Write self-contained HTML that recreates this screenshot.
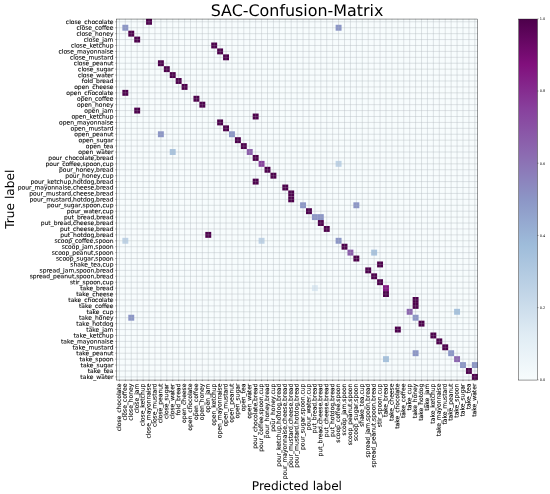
<!DOCTYPE html>
<html><head><meta charset="utf-8"><title>SAC-Confusion-Matrix</title>
<style>html,body{margin:0;padding:0;background:#fff}body{width:550px;height:494px;overflow:hidden}svg{display:block}</style>
</head><body>
<svg width="550" height="494" viewBox="0 0 550 494" font-family='"DejaVu Sans", "Liberation Sans", sans-serif' text-rendering="geometricPrecision">
<rect width="550" height="494" fill="#fff"/>
<rect x="116.45" y="18.85" width="361.35" height="361.0" fill="#f7fcfd"/>
<path d="M119.41 18.85V379.85M116.45 21.81H477.80M125.34 18.85V379.85M116.45 27.73H477.80M131.26 18.85V379.85M116.45 33.65H477.80M137.18 18.85V379.85M116.45 39.56H477.80M143.11 18.85V379.85M116.45 45.48H477.80M149.03 18.85V379.85M116.45 51.40H477.80M154.95 18.85V379.85M116.45 57.32H477.80M160.88 18.85V379.85M116.45 63.24H477.80M166.80 18.85V379.85M116.45 69.15H477.80M172.73 18.85V379.85M116.45 75.07H477.80M178.65 18.85V379.85M116.45 80.99H477.80M184.57 18.85V379.85M116.45 86.91H477.80M190.50 18.85V379.85M116.45 92.83H477.80M196.42 18.85V379.85M116.45 98.74H477.80M202.34 18.85V379.85M116.45 104.66H477.80M208.27 18.85V379.85M116.45 110.58H477.80M214.19 18.85V379.85M116.45 116.50H477.80M220.12 18.85V379.85M116.45 122.42H477.80M226.04 18.85V379.85M116.45 128.33H477.80M231.96 18.85V379.85M116.45 134.25H477.80M237.89 18.85V379.85M116.45 140.17H477.80M243.81 18.85V379.85M116.45 146.09H477.80M249.73 18.85V379.85M116.45 152.01H477.80M255.66 18.85V379.85M116.45 157.92H477.80M261.58 18.85V379.85M116.45 163.84H477.80M267.51 18.85V379.85M116.45 169.76H477.80M273.43 18.85V379.85M116.45 175.68H477.80M279.35 18.85V379.85M116.45 181.60H477.80M285.28 18.85V379.85M116.45 187.51H477.80M291.20 18.85V379.85M116.45 193.43H477.80M297.12 18.85V379.85M116.45 199.35H477.80M303.05 18.85V379.85M116.45 205.27H477.80M308.97 18.85V379.85M116.45 211.19H477.80M314.90 18.85V379.85M116.45 217.10H477.80M320.82 18.85V379.85M116.45 223.02H477.80M326.74 18.85V379.85M116.45 228.94H477.80M332.67 18.85V379.85M116.45 234.86H477.80M338.59 18.85V379.85M116.45 240.78H477.80M344.52 18.85V379.85M116.45 246.69H477.80M350.44 18.85V379.85M116.45 252.61H477.80M356.36 18.85V379.85M116.45 258.53H477.80M362.29 18.85V379.85M116.45 264.45H477.80M368.21 18.85V379.85M116.45 270.37H477.80M374.13 18.85V379.85M116.45 276.28H477.80M380.06 18.85V379.85M116.45 282.20H477.80M385.98 18.85V379.85M116.45 288.12H477.80M391.91 18.85V379.85M116.45 294.04H477.80M397.83 18.85V379.85M116.45 299.96H477.80M403.75 18.85V379.85M116.45 305.87H477.80M409.68 18.85V379.85M116.45 311.79H477.80M415.60 18.85V379.85M116.45 317.71H477.80M421.52 18.85V379.85M116.45 323.63H477.80M427.45 18.85V379.85M116.45 329.55H477.80M433.37 18.85V379.85M116.45 335.46H477.80M439.30 18.85V379.85M116.45 341.38H477.80M445.22 18.85V379.85M116.45 347.30H477.80M451.14 18.85V379.85M116.45 353.22H477.80M457.07 18.85V379.85M116.45 359.14H477.80M462.99 18.85V379.85M116.45 365.05H477.80M468.91 18.85V379.85M116.45 370.97H477.80M474.84 18.85V379.85M116.45 376.89H477.80" stroke="#b4bcc0" stroke-width="0.42" fill="none"/>
<g>
<rect x="146.07" y="18.85" width="5.92" height="5.92" fill="#4d004b"/>
<rect x="122.37" y="24.77" width="5.92" height="5.92" fill="#8c96c6"/>
<rect x="335.63" y="24.77" width="5.92" height="5.92" fill="#8c96c6"/>
<rect x="128.30" y="30.69" width="5.92" height="5.92" fill="#4d004b"/>
<rect x="134.22" y="36.60" width="5.92" height="5.92" fill="#4d004b"/>
<rect x="211.23" y="42.52" width="5.92" height="5.92" fill="#4d004b"/>
<rect x="217.15" y="48.44" width="5.92" height="5.92" fill="#4d004b"/>
<rect x="223.08" y="54.36" width="5.92" height="5.92" fill="#4d004b"/>
<rect x="157.92" y="60.28" width="5.92" height="5.92" fill="#4d004b"/>
<rect x="163.84" y="66.19" width="5.92" height="5.92" fill="#4d004b"/>
<rect x="169.76" y="72.11" width="5.92" height="5.92" fill="#4d004b"/>
<rect x="175.69" y="78.03" width="5.92" height="5.92" fill="#4d004b"/>
<rect x="181.61" y="83.95" width="5.92" height="5.92" fill="#4d004b"/>
<rect x="122.37" y="89.87" width="5.92" height="5.92" fill="#4d004b"/>
<rect x="193.46" y="95.78" width="5.92" height="5.92" fill="#4d004b"/>
<rect x="199.38" y="101.70" width="5.92" height="5.92" fill="#4d004b"/>
<rect x="134.22" y="107.62" width="5.92" height="5.92" fill="#4d004b"/>
<rect x="252.70" y="113.54" width="5.92" height="5.92" fill="#4d004b"/>
<rect x="217.15" y="119.46" width="5.92" height="5.92" fill="#4d004b"/>
<rect x="223.08" y="125.37" width="5.92" height="5.92" fill="#4d004b"/>
<rect x="157.92" y="131.29" width="5.92" height="5.92" fill="#8c96c6"/>
<rect x="229.00" y="131.29" width="5.92" height="5.92" fill="#8c96c6"/>
<rect x="234.93" y="137.21" width="5.92" height="5.92" fill="#4d004b"/>
<rect x="240.85" y="143.13" width="5.92" height="5.92" fill="#4d004b"/>
<rect x="169.76" y="149.05" width="5.92" height="5.92" fill="#aac4de"/>
<rect x="246.77" y="149.05" width="5.92" height="5.92" fill="#8b5caa"/>
<rect x="252.70" y="154.96" width="5.92" height="5.92" fill="#4d004b"/>
<rect x="258.62" y="160.88" width="5.92" height="5.92" fill="#88419d"/>
<rect x="335.63" y="160.88" width="5.92" height="5.92" fill="#bfd3e6"/>
<rect x="264.54" y="166.80" width="5.92" height="5.92" fill="#4d004b"/>
<rect x="270.47" y="172.72" width="5.92" height="5.92" fill="#4d004b"/>
<rect x="252.70" y="178.64" width="5.92" height="5.92" fill="#4d004b"/>
<rect x="282.32" y="184.55" width="5.92" height="5.92" fill="#4d004b"/>
<rect x="288.24" y="190.47" width="5.92" height="5.92" fill="#4d004b"/>
<rect x="288.24" y="196.39" width="5.92" height="5.92" fill="#4d004b"/>
<rect x="300.09" y="202.31" width="5.92" height="5.92" fill="#8c96c6"/>
<rect x="353.40" y="202.31" width="5.92" height="5.92" fill="#8c96c6"/>
<rect x="306.01" y="208.23" width="5.92" height="5.92" fill="#4d004b"/>
<rect x="311.93" y="214.15" width="5.92" height="5.92" fill="#8c96c6"/>
<rect x="317.86" y="214.15" width="5.92" height="5.92" fill="#8c96c6"/>
<rect x="317.86" y="220.06" width="5.92" height="5.92" fill="#4d004b"/>
<rect x="323.78" y="225.98" width="5.92" height="5.92" fill="#4d004b"/>
<rect x="205.31" y="231.90" width="5.92" height="5.92" fill="#4d004b"/>
<rect x="122.37" y="237.82" width="5.92" height="5.92" fill="#bfd3e6"/>
<rect x="258.62" y="237.82" width="5.92" height="5.92" fill="#bfd3e6"/>
<rect x="335.63" y="237.82" width="5.92" height="5.92" fill="#8c96c6"/>
<rect x="341.55" y="243.74" width="5.92" height="5.92" fill="#4d004b"/>
<rect x="347.48" y="249.65" width="5.92" height="5.92" fill="#8b5caa"/>
<rect x="371.17" y="249.65" width="5.92" height="5.92" fill="#aac4de"/>
<rect x="353.40" y="255.57" width="5.92" height="5.92" fill="#4d004b"/>
<rect x="377.10" y="261.49" width="5.92" height="5.92" fill="#4d004b"/>
<rect x="365.25" y="267.41" width="5.92" height="5.92" fill="#4d004b"/>
<rect x="371.17" y="273.33" width="5.92" height="5.92" fill="#4d004b"/>
<rect x="377.10" y="279.24" width="5.92" height="5.92" fill="#4d004b"/>
<rect x="311.93" y="285.16" width="5.92" height="5.92" fill="#dce9f2"/>
<rect x="383.02" y="285.16" width="5.92" height="5.92" fill="#821580"/>
<rect x="383.02" y="291.08" width="5.92" height="5.92" fill="#4d004b"/>
<rect x="412.64" y="297.00" width="5.92" height="5.92" fill="#4d004b"/>
<rect x="412.64" y="302.92" width="5.92" height="5.92" fill="#4d004b"/>
<rect x="406.71" y="308.83" width="5.92" height="5.92" fill="#8c66af"/>
<rect x="454.10" y="308.83" width="5.92" height="5.92" fill="#a7c2dd"/>
<rect x="128.30" y="314.75" width="5.92" height="5.92" fill="#8c96c6"/>
<rect x="412.64" y="314.75" width="5.92" height="5.92" fill="#8c96c6"/>
<rect x="418.56" y="320.67" width="5.92" height="5.92" fill="#4d004b"/>
<rect x="394.87" y="326.59" width="5.92" height="5.92" fill="#4d004b"/>
<rect x="430.41" y="332.51" width="5.92" height="5.92" fill="#4d004b"/>
<rect x="436.33" y="338.42" width="5.92" height="5.92" fill="#4d004b"/>
<rect x="442.26" y="344.34" width="5.92" height="5.92" fill="#4d004b"/>
<rect x="412.64" y="350.26" width="5.92" height="5.92" fill="#8c96c6"/>
<rect x="448.18" y="350.26" width="5.92" height="5.92" fill="#8c96c6"/>
<rect x="383.02" y="356.18" width="5.92" height="5.92" fill="#a7c2dd"/>
<rect x="454.10" y="356.18" width="5.92" height="5.92" fill="#8c66af"/>
<rect x="460.03" y="362.10" width="5.92" height="5.92" fill="#8c96c6"/>
<rect x="471.88" y="362.10" width="5.92" height="5.92" fill="#8c96c6"/>
<rect x="465.95" y="368.01" width="5.92" height="5.92" fill="#4d004b"/>
<rect x="471.88" y="373.93" width="5.92" height="5.92" fill="#4d004b"/>
</g>
<path d="M149.03 18.85v5.92M146.07 21.81h5.92M125.34 24.77v5.92M122.37 27.73h5.92M338.59 24.77v5.92M335.63 27.73h5.92M131.26 30.69v5.92M128.30 33.65h5.92M137.18 36.60v5.92M134.22 39.56h5.92M214.19 42.52v5.92M211.23 45.48h5.92M220.12 48.44v5.92M217.15 51.40h5.92M226.04 54.36v5.92M223.08 57.32h5.92M160.88 60.28v5.92M157.92 63.24h5.92M166.80 66.19v5.92M163.84 69.15h5.92M172.73 72.11v5.92M169.76 75.07h5.92M178.65 78.03v5.92M175.69 80.99h5.92M184.57 83.95v5.92M181.61 86.91h5.92M125.34 89.87v5.92M122.37 92.83h5.92M196.42 95.78v5.92M193.46 98.74h5.92M202.34 101.70v5.92M199.38 104.66h5.92M137.18 107.62v5.92M134.22 110.58h5.92M255.66 113.54v5.92M252.70 116.50h5.92M220.12 119.46v5.92M217.15 122.42h5.92M226.04 125.37v5.92M223.08 128.33h5.92M160.88 131.29v5.92M157.92 134.25h5.92M231.96 131.29v5.92M229.00 134.25h5.92M237.89 137.21v5.92M234.93 140.17h5.92M243.81 143.13v5.92M240.85 146.09h5.92M172.73 149.05v5.92M169.76 152.01h5.92M249.73 149.05v5.92M246.77 152.01h5.92M255.66 154.96v5.92M252.70 157.92h5.92M261.58 160.88v5.92M258.62 163.84h5.92M338.59 160.88v5.92M335.63 163.84h5.92M267.51 166.80v5.92M264.54 169.76h5.92M273.43 172.72v5.92M270.47 175.68h5.92M255.66 178.64v5.92M252.70 181.60h5.92M285.28 184.55v5.92M282.32 187.51h5.92M291.20 190.47v5.92M288.24 193.43h5.92M291.20 196.39v5.92M288.24 199.35h5.92M303.05 202.31v5.92M300.09 205.27h5.92M356.36 202.31v5.92M353.40 205.27h5.92M308.97 208.23v5.92M306.01 211.19h5.92M314.90 214.15v5.92M311.93 217.10h5.92M320.82 214.15v5.92M317.86 217.10h5.92M320.82 220.06v5.92M317.86 223.02h5.92M326.74 225.98v5.92M323.78 228.94h5.92M208.27 231.90v5.92M205.31 234.86h5.92M125.34 237.82v5.92M122.37 240.78h5.92M261.58 237.82v5.92M258.62 240.78h5.92M338.59 237.82v5.92M335.63 240.78h5.92M344.52 243.74v5.92M341.55 246.69h5.92M350.44 249.65v5.92M347.48 252.61h5.92M374.13 249.65v5.92M371.17 252.61h5.92M356.36 255.57v5.92M353.40 258.53h5.92M380.06 261.49v5.92M377.10 264.45h5.92M368.21 267.41v5.92M365.25 270.37h5.92M374.13 273.33v5.92M371.17 276.28h5.92M380.06 279.24v5.92M377.10 282.20h5.92M314.90 285.16v5.92M311.93 288.12h5.92M385.98 285.16v5.92M383.02 288.12h5.92M385.98 291.08v5.92M383.02 294.04h5.92M415.60 297.00v5.92M412.64 299.96h5.92M415.60 302.92v5.92M412.64 305.87h5.92M409.68 308.83v5.92M406.71 311.79h5.92M457.07 308.83v5.92M454.10 311.79h5.92M131.26 314.75v5.92M128.30 317.71h5.92M415.60 314.75v5.92M412.64 317.71h5.92M421.52 320.67v5.92M418.56 323.63h5.92M397.83 326.59v5.92M394.87 329.55h5.92M433.37 332.51v5.92M430.41 335.46h5.92M439.30 338.42v5.92M436.33 341.38h5.92M445.22 344.34v5.92M442.26 347.30h5.92M415.60 350.26v5.92M412.64 353.22h5.92M451.14 350.26v5.92M448.18 353.22h5.92M385.98 356.18v5.92M383.02 359.14h5.92M457.07 356.18v5.92M454.10 359.14h5.92M462.99 362.10v5.92M460.03 365.05h5.92M474.84 362.10v5.92M471.88 365.05h5.92M468.91 368.01v5.92M465.95 370.97h5.92M474.84 373.93v5.92M471.88 376.89h5.92" stroke="#b4bcc0" stroke-width="0.42" stroke-opacity="0.5" fill="none"/>
<path d="M119.41 379.85v1.3M116.45 21.81h-1.3M125.34 379.85v1.3M116.45 27.73h-1.3M131.26 379.85v1.3M116.45 33.65h-1.3M137.18 379.85v1.3M116.45 39.56h-1.3M143.11 379.85v1.3M116.45 45.48h-1.3M149.03 379.85v1.3M116.45 51.40h-1.3M154.95 379.85v1.3M116.45 57.32h-1.3M160.88 379.85v1.3M116.45 63.24h-1.3M166.80 379.85v1.3M116.45 69.15h-1.3M172.73 379.85v1.3M116.45 75.07h-1.3M178.65 379.85v1.3M116.45 80.99h-1.3M184.57 379.85v1.3M116.45 86.91h-1.3M190.50 379.85v1.3M116.45 92.83h-1.3M196.42 379.85v1.3M116.45 98.74h-1.3M202.34 379.85v1.3M116.45 104.66h-1.3M208.27 379.85v1.3M116.45 110.58h-1.3M214.19 379.85v1.3M116.45 116.50h-1.3M220.12 379.85v1.3M116.45 122.42h-1.3M226.04 379.85v1.3M116.45 128.33h-1.3M231.96 379.85v1.3M116.45 134.25h-1.3M237.89 379.85v1.3M116.45 140.17h-1.3M243.81 379.85v1.3M116.45 146.09h-1.3M249.73 379.85v1.3M116.45 152.01h-1.3M255.66 379.85v1.3M116.45 157.92h-1.3M261.58 379.85v1.3M116.45 163.84h-1.3M267.51 379.85v1.3M116.45 169.76h-1.3M273.43 379.85v1.3M116.45 175.68h-1.3M279.35 379.85v1.3M116.45 181.60h-1.3M285.28 379.85v1.3M116.45 187.51h-1.3M291.20 379.85v1.3M116.45 193.43h-1.3M297.12 379.85v1.3M116.45 199.35h-1.3M303.05 379.85v1.3M116.45 205.27h-1.3M308.97 379.85v1.3M116.45 211.19h-1.3M314.90 379.85v1.3M116.45 217.10h-1.3M320.82 379.85v1.3M116.45 223.02h-1.3M326.74 379.85v1.3M116.45 228.94h-1.3M332.67 379.85v1.3M116.45 234.86h-1.3M338.59 379.85v1.3M116.45 240.78h-1.3M344.52 379.85v1.3M116.45 246.69h-1.3M350.44 379.85v1.3M116.45 252.61h-1.3M356.36 379.85v1.3M116.45 258.53h-1.3M362.29 379.85v1.3M116.45 264.45h-1.3M368.21 379.85v1.3M116.45 270.37h-1.3M374.13 379.85v1.3M116.45 276.28h-1.3M380.06 379.85v1.3M116.45 282.20h-1.3M385.98 379.85v1.3M116.45 288.12h-1.3M391.91 379.85v1.3M116.45 294.04h-1.3M397.83 379.85v1.3M116.45 299.96h-1.3M403.75 379.85v1.3M116.45 305.87h-1.3M409.68 379.85v1.3M116.45 311.79h-1.3M415.60 379.85v1.3M116.45 317.71h-1.3M421.52 379.85v1.3M116.45 323.63h-1.3M427.45 379.85v1.3M116.45 329.55h-1.3M433.37 379.85v1.3M116.45 335.46h-1.3M439.30 379.85v1.3M116.45 341.38h-1.3M445.22 379.85v1.3M116.45 347.30h-1.3M451.14 379.85v1.3M116.45 353.22h-1.3M457.07 379.85v1.3M116.45 359.14h-1.3M462.99 379.85v1.3M116.45 365.05h-1.3M468.91 379.85v1.3M116.45 370.97h-1.3M474.84 379.85v1.3M116.45 376.89h-1.3" stroke="#000" stroke-width="0.35" fill="none"/>
<rect x="116.45" y="19.05" width="361.35" height="361.0" fill="none" stroke="#000" stroke-width="0.4"/>
<g font-size="6.0" fill="#000" stroke="#000" stroke-width="0.09">
<text transform="translate(113.45 23.91) rotate(0.03)" text-anchor="end">close_chocolate</text>
<text transform="translate(113.45 29.83) rotate(0.03)" text-anchor="end">close_coffee</text>
<text transform="translate(113.45 35.75) rotate(0.03)" text-anchor="end">close_honey</text>
<text transform="translate(113.45 41.66) rotate(0.03)" text-anchor="end">close_jam</text>
<text transform="translate(113.45 47.58) rotate(0.03)" text-anchor="end">close_ketchup</text>
<text transform="translate(113.45 53.50) rotate(0.03)" text-anchor="end">close_mayonnaise</text>
<text transform="translate(113.45 59.42) rotate(0.03)" text-anchor="end">close_mustard</text>
<text transform="translate(113.45 65.34) rotate(0.03)" text-anchor="end">close_peanut</text>
<text transform="translate(113.45 71.25) rotate(0.03)" text-anchor="end">close_sugar</text>
<text transform="translate(113.45 77.17) rotate(0.03)" text-anchor="end">close_water</text>
<text transform="translate(113.45 83.09) rotate(0.03)" text-anchor="end">fold_bread</text>
<text transform="translate(113.45 89.01) rotate(0.03)" text-anchor="end">open_cheese</text>
<text transform="translate(113.45 94.93) rotate(0.03)" text-anchor="end">open_chocolate</text>
<text transform="translate(113.45 100.84) rotate(0.03)" text-anchor="end">open_coffee</text>
<text transform="translate(113.45 106.76) rotate(0.03)" text-anchor="end">open_honey</text>
<text transform="translate(113.45 112.68) rotate(0.03)" text-anchor="end">open_jam</text>
<text transform="translate(113.45 118.60) rotate(0.03)" text-anchor="end">open_ketchup</text>
<text transform="translate(113.45 124.52) rotate(0.03)" text-anchor="end">open_mayonnaise</text>
<text transform="translate(113.45 130.43) rotate(0.03)" text-anchor="end">open_mustard</text>
<text transform="translate(113.45 136.35) rotate(0.03)" text-anchor="end">open_peanut</text>
<text transform="translate(113.45 142.27) rotate(0.03)" text-anchor="end">open_sugar</text>
<text transform="translate(113.45 148.19) rotate(0.03)" text-anchor="end">open_tea</text>
<text transform="translate(113.45 154.11) rotate(0.03)" text-anchor="end">open_water</text>
<text transform="translate(113.45 160.02) rotate(0.03)" text-anchor="end">pour_chocolate,bread</text>
<text transform="translate(113.45 165.94) rotate(0.03)" text-anchor="end">pour_coffee,spoon,cup</text>
<text transform="translate(113.45 171.86) rotate(0.03)" text-anchor="end">pour_honey,bread</text>
<text transform="translate(113.45 177.78) rotate(0.03)" text-anchor="end">pour_honey,cup</text>
<text transform="translate(113.45 183.70) rotate(0.03)" text-anchor="end">pour_ketchup,hotdog,bread</text>
<text transform="translate(113.45 189.61) rotate(0.03)" text-anchor="end">pour_mayonnaise,cheese,bread</text>
<text transform="translate(113.45 195.53) rotate(0.03)" text-anchor="end">pour_mustard,cheese,bread</text>
<text transform="translate(113.45 201.45) rotate(0.03)" text-anchor="end">pour_mustard,hotdog,bread</text>
<text transform="translate(113.45 207.37) rotate(0.03)" text-anchor="end">pour_sugar,spoon,cup</text>
<text transform="translate(113.45 213.29) rotate(0.03)" text-anchor="end">pour_water,cup</text>
<text transform="translate(113.45 219.20) rotate(0.03)" text-anchor="end">put_bread,bread</text>
<text transform="translate(113.45 225.12) rotate(0.03)" text-anchor="end">put_bread,cheese,bread</text>
<text transform="translate(113.45 231.04) rotate(0.03)" text-anchor="end">put_cheese,bread</text>
<text transform="translate(113.45 236.96) rotate(0.03)" text-anchor="end">put_hotdog,bread</text>
<text transform="translate(113.45 242.88) rotate(0.03)" text-anchor="end">scoop_coffee,spoon</text>
<text transform="translate(113.45 248.79) rotate(0.03)" text-anchor="end">scoop_jam,spoon</text>
<text transform="translate(113.45 254.71) rotate(0.03)" text-anchor="end">scoop_peanut,spoon</text>
<text transform="translate(113.45 260.63) rotate(0.03)" text-anchor="end">scoop_sugar,spoon</text>
<text transform="translate(113.45 266.55) rotate(0.03)" text-anchor="end">shake_tea,cup</text>
<text transform="translate(113.45 272.47) rotate(0.03)" text-anchor="end">spread_jam,spoon,bread</text>
<text transform="translate(113.45 278.38) rotate(0.03)" text-anchor="end">spread_peanut,spoon,bread</text>
<text transform="translate(113.45 284.30) rotate(0.03)" text-anchor="end">stir_spoon,cup</text>
<text transform="translate(113.45 290.22) rotate(0.03)" text-anchor="end">take_bread</text>
<text transform="translate(113.45 296.14) rotate(0.03)" text-anchor="end">take_cheese</text>
<text transform="translate(113.45 302.06) rotate(0.03)" text-anchor="end">take_chocolate</text>
<text transform="translate(113.45 307.97) rotate(0.03)" text-anchor="end">take_coffee</text>
<text transform="translate(113.45 313.89) rotate(0.03)" text-anchor="end">take_cup</text>
<text transform="translate(113.45 319.81) rotate(0.03)" text-anchor="end">take_honey</text>
<text transform="translate(113.45 325.73) rotate(0.03)" text-anchor="end">take_hotdog</text>
<text transform="translate(113.45 331.65) rotate(0.03)" text-anchor="end">take_jam</text>
<text transform="translate(113.45 337.56) rotate(0.03)" text-anchor="end">take_ketchup</text>
<text transform="translate(113.45 343.48) rotate(0.03)" text-anchor="end">take_mayonnaise</text>
<text transform="translate(113.45 349.40) rotate(0.03)" text-anchor="end">take_mustard</text>
<text transform="translate(113.45 355.32) rotate(0.03)" text-anchor="end">take_peanut</text>
<text transform="translate(113.45 361.24) rotate(0.03)" text-anchor="end">take_spoon</text>
<text transform="translate(113.45 367.15) rotate(0.03)" text-anchor="end">take_sugar</text>
<text transform="translate(113.45 373.07) rotate(0.03)" text-anchor="end">take_tea</text>
<text transform="translate(113.45 378.99) rotate(0.03)" text-anchor="end">take_water</text>
<text transform="translate(120.91 383.65) rotate(-89.96)" text-anchor="end">close_chocolate</text>
<text transform="translate(126.84 383.65) rotate(-89.96)" text-anchor="end">close_coffee</text>
<text transform="translate(132.76 383.65) rotate(-89.96)" text-anchor="end">close_honey</text>
<text transform="translate(138.68 383.65) rotate(-89.96)" text-anchor="end">close_jam</text>
<text transform="translate(144.61 383.65) rotate(-89.96)" text-anchor="end">close_ketchup</text>
<text transform="translate(150.53 383.65) rotate(-89.96)" text-anchor="end">close_mayonnaise</text>
<text transform="translate(156.45 383.65) rotate(-89.96)" text-anchor="end">close_mustard</text>
<text transform="translate(162.38 383.65) rotate(-89.96)" text-anchor="end">close_peanut</text>
<text transform="translate(168.30 383.65) rotate(-89.96)" text-anchor="end">close_sugar</text>
<text transform="translate(174.23 383.65) rotate(-89.96)" text-anchor="end">close_water</text>
<text transform="translate(180.15 383.65) rotate(-89.96)" text-anchor="end">fold_bread</text>
<text transform="translate(186.07 383.65) rotate(-89.96)" text-anchor="end">open_cheese</text>
<text transform="translate(192.00 383.65) rotate(-89.96)" text-anchor="end">open_chocolate</text>
<text transform="translate(197.92 383.65) rotate(-89.96)" text-anchor="end">open_coffee</text>
<text transform="translate(203.84 383.65) rotate(-89.96)" text-anchor="end">open_honey</text>
<text transform="translate(209.77 383.65) rotate(-89.96)" text-anchor="end">open_jam</text>
<text transform="translate(215.69 383.65) rotate(-89.96)" text-anchor="end">open_ketchup</text>
<text transform="translate(221.62 383.65) rotate(-89.96)" text-anchor="end">open_mayonnaise</text>
<text transform="translate(227.54 383.65) rotate(-89.96)" text-anchor="end">open_mustard</text>
<text transform="translate(233.46 383.65) rotate(-89.96)" text-anchor="end">open_peanut</text>
<text transform="translate(239.39 383.65) rotate(-89.96)" text-anchor="end">open_sugar</text>
<text transform="translate(245.31 383.65) rotate(-89.96)" text-anchor="end">open_tea</text>
<text transform="translate(251.23 383.65) rotate(-89.96)" text-anchor="end">open_water</text>
<text transform="translate(257.16 383.65) rotate(-89.96)" text-anchor="end">pour_chocolate,bread</text>
<text transform="translate(263.08 383.65) rotate(-89.96)" text-anchor="end">pour_coffee,spoon,cup</text>
<text transform="translate(269.01 383.65) rotate(-89.96)" text-anchor="end">pour_honey,bread</text>
<text transform="translate(274.93 383.65) rotate(-89.96)" text-anchor="end">pour_honey,cup</text>
<text transform="translate(280.85 383.65) rotate(-89.96)" text-anchor="end">pour_ketchup,hotdog,bread</text>
<text transform="translate(286.78 383.65) rotate(-89.96)" text-anchor="end">pour_mayonnaise,cheese,bread</text>
<text transform="translate(292.70 383.65) rotate(-89.96)" text-anchor="end">pour_mustard,cheese,bread</text>
<text transform="translate(298.62 383.65) rotate(-89.96)" text-anchor="end">pour_mustard,hotdog,bread</text>
<text transform="translate(304.55 383.65) rotate(-89.96)" text-anchor="end">pour_sugar,spoon,cup</text>
<text transform="translate(310.47 383.65) rotate(-89.96)" text-anchor="end">pour_water,cup</text>
<text transform="translate(316.40 383.65) rotate(-89.96)" text-anchor="end">put_bread,bread</text>
<text transform="translate(322.32 383.65) rotate(-89.96)" text-anchor="end">put_bread,cheese,bread</text>
<text transform="translate(328.24 383.65) rotate(-89.96)" text-anchor="end">put_cheese,bread</text>
<text transform="translate(334.17 383.65) rotate(-89.96)" text-anchor="end">put_hotdog,bread</text>
<text transform="translate(340.09 383.65) rotate(-89.96)" text-anchor="end">scoop_coffee,spoon</text>
<text transform="translate(346.02 383.65) rotate(-89.96)" text-anchor="end">scoop_jam,spoon</text>
<text transform="translate(351.94 383.65) rotate(-89.96)" text-anchor="end">scoop_peanut,spoon</text>
<text transform="translate(357.86 383.65) rotate(-89.96)" text-anchor="end">scoop_sugar,spoon</text>
<text transform="translate(363.79 383.65) rotate(-89.96)" text-anchor="end">shake_tea,cup</text>
<text transform="translate(369.71 383.65) rotate(-89.96)" text-anchor="end">spread_jam,spoon,bread</text>
<text transform="translate(375.63 383.65) rotate(-89.96)" text-anchor="end">spread_peanut,spoon,bread</text>
<text transform="translate(381.56 383.65) rotate(-89.96)" text-anchor="end">stir_spoon,cup</text>
<text transform="translate(387.48 383.65) rotate(-89.96)" text-anchor="end">take_bread</text>
<text transform="translate(393.41 383.65) rotate(-89.96)" text-anchor="end">take_cheese</text>
<text transform="translate(399.33 383.65) rotate(-89.96)" text-anchor="end">take_chocolate</text>
<text transform="translate(405.25 383.65) rotate(-89.96)" text-anchor="end">take_coffee</text>
<text transform="translate(411.18 383.65) rotate(-89.96)" text-anchor="end">take_cup</text>
<text transform="translate(417.10 383.65) rotate(-89.96)" text-anchor="end">take_honey</text>
<text transform="translate(423.02 383.65) rotate(-89.96)" text-anchor="end">take_hotdog</text>
<text transform="translate(428.95 383.65) rotate(-89.96)" text-anchor="end">take_jam</text>
<text transform="translate(434.87 383.65) rotate(-89.96)" text-anchor="end">take_ketchup</text>
<text transform="translate(440.80 383.65) rotate(-89.96)" text-anchor="end">take_mayonnaise</text>
<text transform="translate(446.72 383.65) rotate(-89.96)" text-anchor="end">take_mustard</text>
<text transform="translate(452.64 383.65) rotate(-89.96)" text-anchor="end">take_peanut</text>
<text transform="translate(458.57 383.65) rotate(-89.96)" text-anchor="end">take_spoon</text>
<text transform="translate(464.49 383.65) rotate(-89.96)" text-anchor="end">take_sugar</text>
<text transform="translate(470.41 383.65) rotate(-89.96)" text-anchor="end">take_tea</text>
<text transform="translate(476.34 383.65) rotate(-89.96)" text-anchor="end">take_water</text>
</g>
<text x="297" y="16.4" font-size="15.9" text-anchor="middle">SAC-Confusion-Matrix</text>
<text x="296.9" y="489.7" font-size="12.15" text-anchor="middle">Predicted label</text>
<text transform="translate(14.3 199.2) rotate(-90)" font-size="12.2" text-anchor="middle">True label</text>
<defs><linearGradient id="cb" x1="0" y1="1" x2="0" y2="0">
<stop offset="0.0" stop-color="#f7fcfd"/>
<stop offset="0.125" stop-color="#e0ecf4"/>
<stop offset="0.25" stop-color="#bfd3e6"/>
<stop offset="0.375" stop-color="#9ebcda"/>
<stop offset="0.5" stop-color="#8c96c6"/>
<stop offset="0.625" stop-color="#8c6bb1"/>
<stop offset="0.75" stop-color="#88419d"/>
<stop offset="0.875" stop-color="#810f7c"/>
<stop offset="1.0" stop-color="#4d004b"/>
</linearGradient></defs>
<rect x="518.8" y="19.05" width="18.60" height="361.0" fill="url(#cb)" stroke="#000" stroke-width="0.4"/>
<g font-size="3.5" fill="#000">
<text x="539.70" y="381.15">0.0</text>
<text x="539.70" y="308.95">0.2</text>
<text x="539.70" y="236.75">0.4</text>
<text x="539.70" y="164.55">0.6</text>
<text x="539.70" y="92.35">0.8</text>
<text x="539.70" y="20.15">1.0</text>
</g>
<path d="M537.4 379.85h1.2M537.4 307.65h1.2M537.4 235.45h1.2M537.4 163.25h1.2M537.4 91.05h1.2M537.4 18.85h1.2" stroke="#000" stroke-width="0.35" fill="none"/>
</svg>
</body></html>
